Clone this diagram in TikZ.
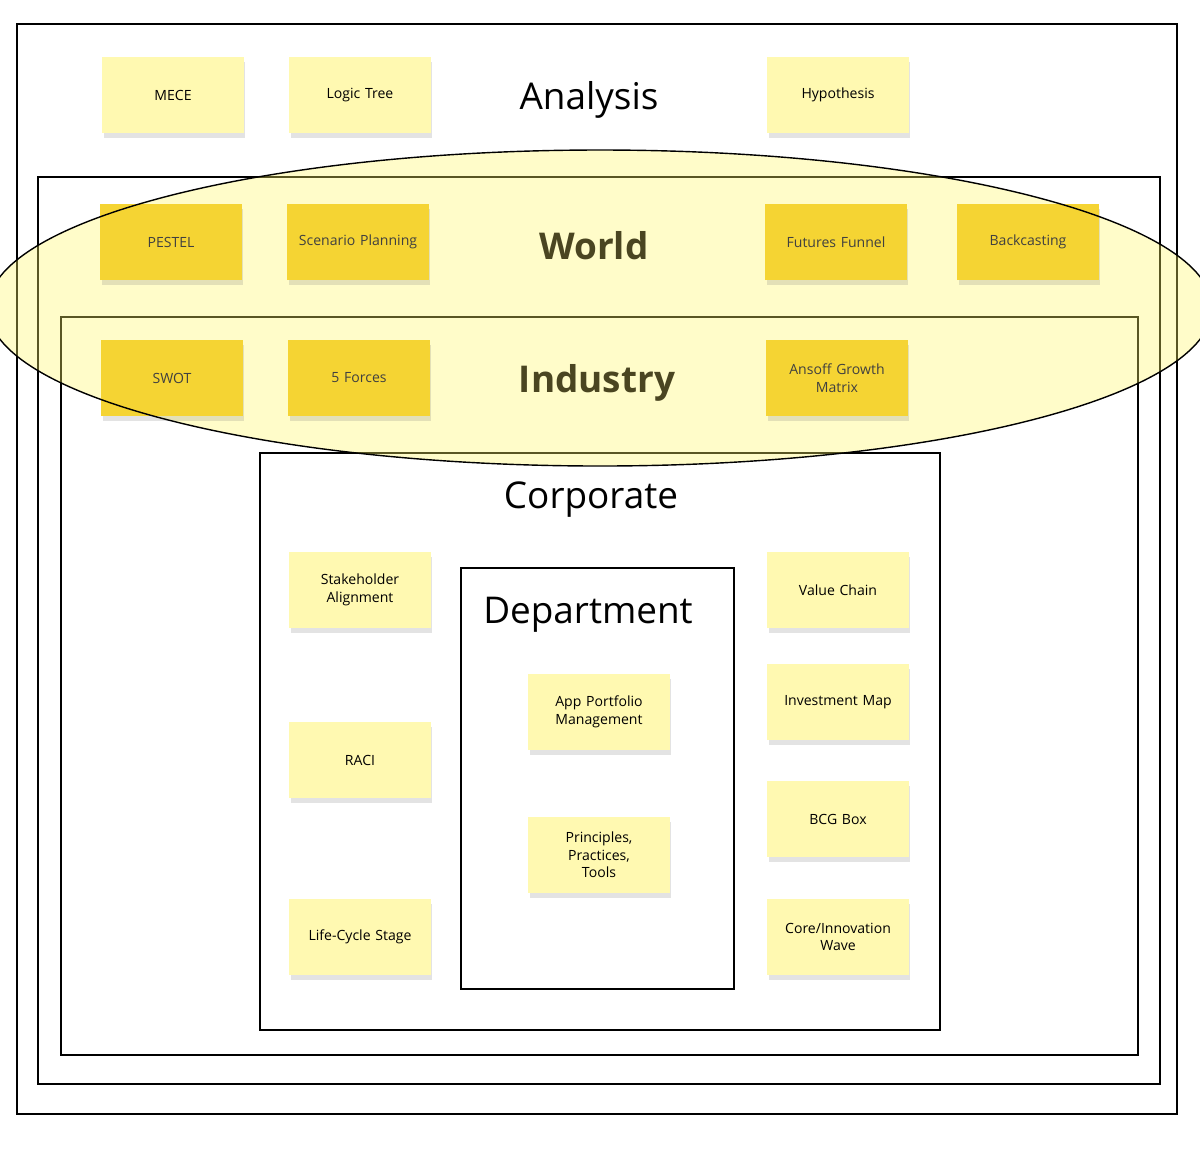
\documentclass[tikz,border=0pt]{standalone}
\usepackage{fontspec}
\setmainfont{Open Sans}
\usetikzlibrary{positioning,shadows}
\definecolor{notelight}{HTML}{FFF9B1}
\definecolor{notedark}{HTML}{F5D433}
\definecolor{titledark}{HTML}{4A4521}
\tikzset{
  frame/.style={draw=black,line width=0.9pt},
  note/.style={minimum width=2.84cm,minimum height=1.52cm,text width=2.5cm,align=center,
    font=\fontsize{8}{10}\selectfont,inner sep=2pt,
    drop shadow={shadow xshift=0.3mm,shadow yshift=-1mm,opacity=0.18,fill=black!60}},
  lightnote/.style={note,fill=notelight},
  darknote/.style={note,fill=notedark,text=black!75},
  title/.style={font=\fontsize{21}{24}\selectfont},
  boldtitle/.style={font=\fontsize{21}{24}\selectfont\bfseries,text=titledark}
}
\begin{document}
\begin{tikzpicture}[x=0.02cm,y=-0.02cm]
  \useasboundingbox (0,0) rectangle (1200,1161);
  \fill[white] (0,0) rectangle (1200,1161);
  % nested frames
  \draw[frame] (17,24) rectangle (1177,1114);
  \draw[frame] (38,177) rectangle (1160,1084);
  \draw[frame] (61,317) rectangle (1138,1055);
  \draw[frame] (260,453) rectangle (940,1030);
  \draw[frame] (461,568) rectangle (734,989);
  % highlight
  \fill[yellow!60,opacity=0.35] (600,308) ellipse (612 and 158);
  % titles
  \node[title] (analysis) at (589,100) {Analysis};
  \node[boldtitle] (world) at (594,246) {World};
  \node[boldtitle] (industry) at (597,383) {Industry};
  \node[title] (corporate) at (591,500) {Corporate};
  \node[title] (department) at (588,615) {Department};
  % analysis notes
  \node[lightnote] (mece) at (173,95) {MECE};
  \node[lightnote] (logictree) at (360,95) {Logic Tree};
  \node[lightnote] (hypothesis) at (838,95) {Hypothesis};
  % world notes
  \node[darknote] (pestel) at (171,242) {PESTEL};
  \node[darknote] (scenario) at (358,242) {Scenario Planning};
  \node[darknote] (funnel) at (836,242) {Futures Funnel};
  \node[darknote] (backcasting) at (1028,242) {Backcasting};
  % industry notes
  \node[darknote] (swot) at (172,378) {SWOT};
  \node[darknote] (forces) at (359,378) {5 Forces};
  \node[darknote] (ansoff) at (837,378) {Ansoff Growth\\Matrix};
  % corporate notes
  \node[lightnote] (stakeholder) at (360,590) {Stakeholder\\Alignment};
  \node[lightnote] (raci) at (360,760) {RACI};
  \node[lightnote] (lifecycle) at (360,937) {Life-Cycle Stage};
  \node[lightnote] (valuechain) at (838,590) {Value Chain};
  \node[lightnote] (investment) at (838,702) {Investment Map};
  \node[lightnote] (bcg) at (838,819) {BCG Box};
  \node[lightnote] (coreinno) at (838,937) {Core/Innovation\\Wave};
  % department notes
  \node[lightnote] (appportfolio) at (599,712) {App Portfolio\\Management};
  \node[lightnote] (principles) at (599,855) {Principles,\\Practices,\\Tools};
  % outline on top
  \draw[black,line width=0.8pt] (600,308) ellipse (612 and 158);
\end{tikzpicture}
\end{document}
